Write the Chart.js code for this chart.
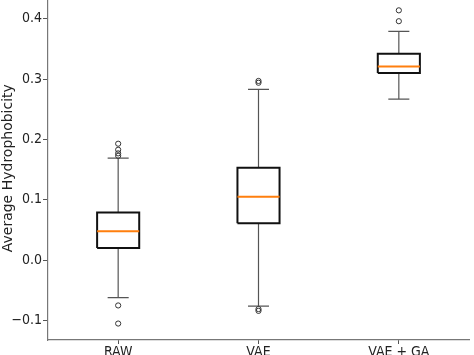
<!DOCTYPE html>
<html>
<head>
<meta charset="utf-8">
<script src="https://cdn.jsdelivr.net/npm/chart.js@4"></script>
<style>
  html, body { margin: 0; padding: 0; width: 474px; height: 355px; overflow: hidden; background: #fff; }
  #wrap { position: absolute; left: 0; top: -13px; width: 474px; height: 368px; }
</style>
</head>
<body>
<div id="wrap"><canvas id="c"></canvas></div>
<script>
// ---- data ----
const categories = ["RAW", "VAE", "VAE + GA"];
const lowerWhisker = [-0.062, -0.076, 0.267];
const q1Values     = [0.020, 0.061, 0.310];
const medianValues = [0.048, 0.105, 0.321];
const q3Values     = [0.079, 0.153, 0.342];
const upperWhisker = [0.169, 0.283, 0.379];
const outliers     = [
  [0.193, 0.183, 0.177, 0.173, -0.075, -0.105],
  [0.297, 0.294, -0.081, -0.084],
  [0.414, 0.396]
];
const yTickValues = [-0.1, 0.0, 0.1, 0.2, 0.3, 0.4];

// ---- build datasets ----
const BOX_HALF = 0.15, CAP_HALF = 0.075;
const boxPts = [], medPts = [], whiskPts = [], outPts = [];
categories.forEach((c, i) => {
  const x = i + 1;
  const gap = { x: x, y: null };
  boxPts.push({x: x - BOX_HALF, y: q1Values[i]}, {x: x + BOX_HALF, y: q1Values[i]},
              {x: x + BOX_HALF, y: q3Values[i]}, {x: x - BOX_HALF, y: q3Values[i]},
              {x: x - BOX_HALF, y: q1Values[i]}, gap);
  medPts.push({x: x - BOX_HALF, y: medianValues[i]}, {x: x + BOX_HALF, y: medianValues[i]}, gap);
  whiskPts.push({x: x, y: q3Values[i]}, {x: x, y: upperWhisker[i]}, gap,
                {x: x, y: q1Values[i]}, {x: x, y: lowerWhisker[i]}, gap,
                {x: x - CAP_HALF, y: upperWhisker[i]}, {x: x + CAP_HALF, y: upperWhisker[i]}, gap,
                {x: x - CAP_HALF, y: lowerWhisker[i]}, {x: x + CAP_HALF, y: lowerWhisker[i]}, gap);
  outliers[i].forEach(v => outPts.push({x: x, y: v}));
});

const lineBase = { type: 'scatter', showLine: true, spanGaps: false, pointRadius: 0, pointHoverRadius: 0, tension: 0 };

new Chart(document.getElementById('c'), {
  type: 'scatter',
  data: {
    datasets: [
      Object.assign({}, lineBase, { label: 'median', data: medPts, borderColor: '#ff7f0e', borderWidth: 2, order: 0 }),
      { type: 'scatter', label: 'outliers', data: outPts, pointStyle: 'circle', pointRadius: 2.6,
        pointBackgroundColor: 'rgba(255,255,255,0)', pointBorderColor: '#333', pointBorderWidth: 1, order: 0 },
      Object.assign({}, lineBase, { label: 'box', data: boxPts, borderColor: '#111', borderWidth: 2, order: 1 }),
      Object.assign({}, lineBase, { label: 'whiskers', data: whiskPts, borderColor: '#555', borderWidth: 1.2, order: 2 })
    ]
  },
  options: {
    responsive: true,
    maintainAspectRatio: false,
    animation: false,
    layout: { padding: 0 },
    plugins: { legend: { display: false }, tooltip: { enabled: false } },
    scales: {
      x: {
        type: 'linear', min: 0.5, max: 3.5,
        afterBuildTicks: s => { s.ticks = categories.map((c, i) => ({ value: i + 1 })); },
        afterFit: s => { s.height = 15; },
        ticks: {
          callback: v => categories[Math.round(v) - 1],
          font: { family: "'Liberation Sans Narrow', 'DejaVu Sans Condensed', sans-serif", size: 14 },
          color: '#222', padding: 0, maxRotation: 0, autoSkip: false
        },
        grid: { drawOnChartArea: false, drawTicks: true, tickLength: 4, color: '#555' },
        border: { display: true, color: '#777', width: 1.2 }
      },
      y: {
        type: 'linear', min: -0.13226, max: 0.43710,
        afterBuildTicks: s => { s.ticks = yTickValues.map(v => ({ value: v })); },
        afterFit: s => { s.width = 48; },
        ticks: {
          callback: v => v.toFixed(1).replace('-', '\u2212'),
          font: { family: "'Liberation Sans Narrow', 'DejaVu Sans Condensed', sans-serif", size: 14 },
          color: '#222', padding: 1
        },
        grid: { drawOnChartArea: false, drawTicks: true, tickLength: 5, color: '#555' },
        border: { display: true, color: '#777', width: 1.2 },
        title: {
          display: true, text: 'Average Hydrophobicity',
          font: { family: "'DejaVu Sans', sans-serif", size: 14 },
          color: '#222', padding: { top: 0, bottom: 0 }
        }
      }
    }
  }
});
</script>
</body>
</html>
